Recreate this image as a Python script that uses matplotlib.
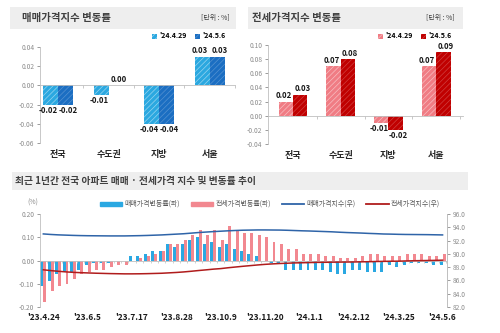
import numpy as np
import matplotlib
matplotlib.use('Agg')
import matplotlib.pyplot as plt
import matplotlib.transforms as mtransforms
from matplotlib.patches import Rectangle
from matplotlib.lines import Line2D

plt.rcParams['font.family'] = ['Noto Sans CJK KR', 'DejaVu Sans']
plt.rcParams['hatch.linewidth'] = 0.5

# ---- top charts data ----
regions = ['전국', '수도권', '지방', '서울']
sale_0429 = [-0.02, -0.01, -0.04, 0.03]
sale_0506 = [-0.02, 0.00, -0.04, 0.03]
jeonse_0429 = [0.02, 0.07, -0.01, 0.07]
jeonse_0506 = [0.03, 0.08, -0.02, 0.09]
week_a = "'24.4.29"
week_b = "'24.5.6"

# ---- bottom chart data (weekly, '23.4.24 ~ '24.5.6) ----
sale_chg = [-0.11, -0.09, -0.06, -0.05, -0.05, -0.04, -0.02, -0.01, -0.01, -0.01,
            0.00, 0.00, 0.02, 0.02, 0.03, 0.04, 0.04, 0.07, 0.06, 0.07,
            0.09, 0.10, 0.07, 0.08, 0.06, 0.07, 0.05, 0.04, 0.03, 0.02,
            0.00, -0.01, -0.01, -0.04, -0.04, -0.04, -0.04, -0.04, -0.04, -0.05,
            -0.06, -0.06, -0.04, -0.04, -0.05, -0.05, -0.05, -0.02, -0.03, -0.02,
            -0.01, -0.01, -0.01, -0.02, -0.02]
jeonse_chg = [-0.18, -0.13, -0.11, -0.10, -0.08, -0.06, -0.05, -0.04, -0.04, -0.03,
              -0.02, -0.02, 0.00, 0.01, 0.02, 0.03, 0.04, 0.07, 0.07, 0.09,
              0.11, 0.13, 0.11, 0.13, 0.09, 0.15, 0.13, 0.12, 0.12, 0.11,
              0.10, 0.08, 0.07, 0.05, 0.05, 0.03, 0.03, 0.03, 0.02, 0.02,
              0.01, 0.01, 0.01, 0.02, 0.03, 0.03, 0.02, 0.02, 0.02, 0.03,
              0.03, 0.03, 0.02, 0.02, 0.03]
sale_idx = [93.00, 92.92, 92.86, 92.82, 92.78, 92.75, 92.73, 92.72, 92.71, 92.70,
            92.70, 92.70, 92.72, 92.74, 92.77, 92.81, 92.85, 92.91, 92.97, 93.03,
            93.12, 93.21, 93.28, 93.35, 93.41, 93.47, 93.52, 93.56, 93.58, 93.60,
            93.60, 93.59, 93.58, 93.55, 93.51, 93.47, 93.44, 93.40, 93.36, 93.32,
            93.26, 93.21, 93.17, 93.13, 93.08, 93.04, 92.99, 92.97, 92.94, 92.92,
            92.91, 92.90, 92.89, 92.87, 92.85]
jeonse_idx = [87.60, 87.48, 87.38, 87.29, 87.22, 87.17, 87.13, 87.09, 87.06, 87.03,
              87.01, 86.99, 86.99, 87.00, 87.02, 87.05, 87.08, 87.14, 87.20, 87.28,
              87.38, 87.49, 87.59, 87.70, 87.78, 87.91, 88.02, 88.13, 88.23, 88.33,
              88.42, 88.49, 88.55, 88.59, 88.64, 88.66, 88.69, 88.72, 88.73, 88.75,
              88.76, 88.77, 88.78, 88.80, 88.82, 88.85, 88.87, 88.89, 88.90, 88.93,
              88.96, 88.98, 89.00, 89.02, 89.05]
date_labels = ["'23.4.24", "'23.6.5", "'23.7.17", "'23.8.28", "'23.10.9",
               "'23.11.20", "'24.1.1", "'24.2.12", "'24.3.25", "'24.5.6"]

W, H = 500, 333
fig = plt.figure(figsize=(5, 3.33), dpi=100)
TXT = '#404040'


def fx(px):
    return px / W


def fy(py):
    return 1 - py / H


def title_box(x0, x1, y0, y1):
    fig.patches.append(Rectangle((fx(x0), fy(y1)), fx(x1 - x0), (y1 - y0) / H,
                                 transform=fig.transFigure, facecolor='#EEEEEE',
                                 edgecolor='none', zorder=0))


def bar_panel(rect, va, vb, ca, cb, lo, hi, step, xlim):
    ax = fig.add_axes(rect)
    x = np.arange(len(regions))
    w = 0.3
    b1 = ax.bar(x - w / 2, va, w, color=ca, edgecolor='#FFFFFF80', linewidth=0,
                hatch='//////')
    b2 = ax.bar(x + w / 2, vb, w, color=cb, edgecolor='#FFFFFF40', linewidth=0,
                hatch='//////')
    # labels pushed slightly apart so the pair does not collide
    for bars, vals, dx in ((b1, va, -1.6), (b2, vb, 1.6)):
        for r, v in zip(bars, vals):
            cx = r.get_x() + r.get_width() / 2
            up = v >= 0
            ax.annotate(f'{v:.2f}', (cx, v), xytext=(dx, 1 if up else -1),
                        textcoords='offset points', ha='center',
                        va='bottom' if up else 'top', fontsize=5.6, fontweight='bold',
                        color='#1A1A1A')
    ax.set_ylim(lo, hi)
    ax.set_xlim(*xlim)
    ax.set_yticks(np.arange(lo, hi + step / 2, step))
    ax.yaxis.set_major_formatter(plt.FormatStrFormatter('%.2f'))
    ax.tick_params(axis='y', labelsize=4.8, colors='#8C8C8C', length=2, width=0.6, pad=2)
    ax.spines['left'].set_color('#BFBFBF')
    ax.spines['left'].set_linewidth(0.6)
    ax.spines['bottom'].set_position(('data', 0))
    ax.spines['bottom'].set_color('#BFBFBF')
    ax.spines['bottom'].set_linewidth(0.6)
    ax.spines['top'].set_visible(False)
    ax.spines['right'].set_visible(False)
    ax.set_xticks(x + 0.5)
    ax.set_xticklabels([])
    ax.tick_params(axis='x', length=2, width=0.6, colors='#BFBFBF', direction='out')
    trans = mtransforms.blended_transform_factory(ax.transData, ax.transAxes)
    for xi, name in zip(x, regions):
        ax.text(xi, -0.07, name, transform=trans, ha='center', va='top',
                fontsize=6.5, fontweight='bold', color='#262626')
    ax.patch.set_alpha(0)
    return ax, b1, b2


# ---- top-left: 매매 ----
title_box(10, 236, 7, 29)
fig.text(fx(22), fy(18), '매매가격지수 변동률', fontsize=7.5, fontweight='bold',
         color=TXT, va='center')
fig.text(fx(230), fy(18), '[단위 : %]', fontsize=5, color=TXT, va='center', ha='right')
ax1, s1, s2 = bar_panel([fx(40), fy(143), fx(195), 96 / H], sale_0429, sale_0506,
                        '#2BA8E0', '#1B6EC2', -0.06, 0.04, 0.02, (-0.36, 3.5))
ax1.legend([s1, s2], [week_a, week_b], loc='center right', ncol=2, frameon=False,
           bbox_to_anchor=(fx(232), fy(36)), bbox_transform=fig.transFigure,
           handlelength=0.7, handleheight=0.7, handletextpad=0.4,
           columnspacing=1.2, prop={'weight': 'bold', 'size': 5})

# ---- top-right: 전세 ----
title_box(248, 463, 7, 29)
fig.text(fx(252), fy(18), '전세가격지수 변동률', fontsize=7.5, fontweight='bold',
         color=TXT, va='center')
fig.text(fx(455), fy(18), '[단위 : %]', fontsize=5, color=TXT, va='center', ha='right')
ax2, j1, j2 = bar_panel([fx(268), fy(144), fx(195), 99 / H], jeonse_0429, jeonse_0506,
                        '#F07C84', '#C00000', -0.04, 0.10, 0.02, (-0.52, 3.56))
ax2.legend([j1, j2], [week_a, week_b], loc='center right', ncol=2, frameon=False,
           bbox_to_anchor=(fx(458), fy(36)), bbox_transform=fig.transFigure,
           handlelength=0.7, handleheight=0.7, handletextpad=0.4,
           columnspacing=1.2, prop={'weight': 'bold', 'size': 5})

# ---- bottom: 1년간 추이 ----
title_box(12, 468, 172, 190)
fig.text(fx(15), fy(181), '최근 1년간 전국 아파트 매매 · 전세가격 지수 및 변동률 추이',
         fontsize=7, fontweight='bold', color=TXT, va='center')

ax = fig.add_axes([fx(40), fy(307), fx(407), 93 / H])
n = len(sale_chg)
xs = np.arange(n)
bw = 0.4
ax.bar(xs - bw / 2, sale_chg, bw, color='#2AA8E2', linewidth=0)
ax.bar(xs + bw / 2, jeonse_chg, bw, color='#F28890', linewidth=0)
ax.set_xlim(-0.45, n - 0.4)
ax.set_ylim(-0.2, 0.2)
ax.set_yticks(np.arange(-0.2, 0.21, 0.1))
ax.yaxis.set_major_formatter(plt.FormatStrFormatter('%.2f'))
ax.tick_params(axis='y', labelsize=4.8, colors='#8C8C8C', length=2, width=0.6, pad=2)
for sp in ('left', 'right'):
    ax.spines[sp].set_color('#BFBFBF')
    ax.spines[sp].set_linewidth(0.6)
ax.spines['top'].set_visible(False)
ax.spines['bottom'].set_position(('data', 0))
ax.spines['bottom'].set_color('#BFBFBF')
ax.spines['bottom'].set_linewidth(0.6)
ax.set_xticks(xs + 0.5)
ax.set_xticklabels([])
ax.tick_params(axis='x', length=1.5, width=0.5, colors='#BFBFBF')
trans = mtransforms.blended_transform_factory(ax.transData, ax.transAxes)
for k, lab in enumerate(date_labels):
    ax.text(k * 6, -0.06, lab, transform=trans, ha='center', va='top',
            fontsize=6, fontweight='bold', color='#1A1A1A')
fig.text(fx(33), fy(203), '(%)', fontsize=5, color='#8C8C8C', ha='center', va='center')

axr = ax.twinx()
axr.plot(xs, sale_idx, color='#2F64A8', lw=1.1)
axr.plot(xs, jeonse_idx, color='#B01C1C', lw=1.1)
axr.set_ylim(82, 96)
axr.set_yticks(np.arange(82, 96.1, 2))
axr.yaxis.set_major_formatter(plt.FormatStrFormatter('%.1f'))
axr.tick_params(axis='y', labelsize=4.8, colors='#8C8C8C', length=2, width=0.6, pad=2)
for sp in ('top', 'left', 'bottom'):
    axr.spines[sp].set_visible(False)
axr.spines['right'].set_color('#BFBFBF')
axr.spines['right'].set_linewidth(0.6)

handles = [Rectangle((0, 0), 1, 1, color='#2AA8E2'), Rectangle((0, 0), 1, 1, color='#F28890'),
           Line2D([], [], color='#2F64A8', lw=1.3), Line2D([], [], color='#B01C1C', lw=1.3)]
labels = ['매매가격변동률(좌)', '전세가격변동률(좌)', '매매가격지수(우)', '전세가격지수(우)']
ax.legend(handles, labels, loc='center', ncol=4, frameon=False,
          bbox_to_anchor=(fx(270), fy(204)), bbox_transform=fig.transFigure,
          fontsize=5, handlelength=3.2, handleheight=0.5, handletextpad=0.3,
          columnspacing=1.6, labelcolor='#595959')

fig.savefig('out.png', dpi=100)
